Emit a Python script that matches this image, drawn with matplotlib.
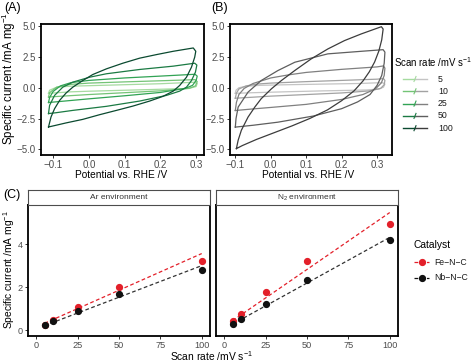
import numpy as np
import matplotlib
matplotlib.use("Agg")
import matplotlib.pyplot as plt
from matplotlib.lines import Line2D

plt.rcParams['font.family'] = ['Liberation Sans', 'DejaVu Sans']
plt.rcParams['mathtext.default'] = 'regular'

# ---- CV loops, panel A (Fe-N-C, greens) : potential /V, current /mA mg-1
A5_E = [-0.113, -0.11, -0.09, -0.05, 0.0, 0.1, 0.2, 0.295, 0.303, 0.3, 0.28, 0.2, 0.1, 0.0, -0.05, -0.113]
A5_I = [-0.45, -0.2, 0.05, 0.13, 0.17, 0.25, 0.33, 0.45, 0.35, 0.1, -0.05, -0.12, -0.2, -0.28, -0.33, -0.45]
A10_E = [-0.113, -0.11, -0.09, -0.05, 0.0, 0.1, 0.2, 0.297, 0.303, 0.298, 0.28, 0.2, 0.1, 0.0, -0.113]
A10_I = [-0.75, -0.4, 0.05, 0.28, 0.38, 0.48, 0.57, 0.66, 0.5, 0.15, -0.05, -0.25, -0.4, -0.55, -0.75]
A25_E = [-0.113, -0.11, -0.1, -0.08, -0.05, 0.0, 0.1, 0.2, 0.297, 0.303, 0.3, 0.29, 0.27, 0.2, 0.1, 0.0, -0.113]
A25_I = [-1.2, -0.8, -0.3, 0.15, 0.42, 0.6, 0.8, 0.95, 1.1, 0.95, 0.6, 0.2, -0.05, -0.38, -0.65, -0.9, -1.2]
A50_E = [-0.113, -0.11, -0.096, -0.073, -0.045, 0.002, 0.049, 0.142, 0.236, 0.296,
         0.302, 0.298, 0.287, 0.273, 0.254, 0.217, 0.142, 0.049, -0.045, -0.092, -0.113]
A50_I = [-2.1, -1.43, -0.62, 0.05, 0.46, 0.86, 1.14, 1.49, 1.76, 2.0,
         1.85, 1.27, 0.59, 0.05, -0.27, -0.62, -1.08, -1.51, -1.84, -2.03, -2.1]
A100_E = [-0.113, -0.106, -0.096, -0.082, -0.064, -0.045, -0.017, 0.011, 0.049, 0.095, 0.142, 0.189, 0.236, 0.292,
          0.299, 0.296, 0.287, 0.273, 0.254, 0.236, 0.207, 0.170, 0.123, 0.077, 0.030, -0.017, -0.064, -0.092, -0.113]
A100_I = [-3.19, -2.38, -1.70, -1.03, -0.43, 0.05, 0.59, 1.08, 1.54, 2.0, 2.41, 2.70, 2.97, 3.24,
          2.97, 2.49, 1.68, 0.86, 0.19, -0.27, -0.70, -1.08, -1.49, -1.84, -2.19, -2.57, -2.86, -3.05, -3.19]

# ---- CV loops, panel B (Nb-N-C, greys)
B5_E = [-0.1, -0.098, -0.09, -0.07, -0.03, 0.05, 0.15, 0.25, 0.315, 0.322, 0.318, 0.305, 0.27, 0.15, 0.05, -0.05, -0.1]
B5_I = [-0.45, -0.2, 0.0, 0.12, 0.2, 0.25, 0.3, 0.35, 0.42, 0.3, 0.05, -0.1, -0.18, -0.25, -0.32, -0.4, -0.45]
B10_E = [-0.1, -0.097, -0.09, -0.07, -0.04, 0.0, 0.1, 0.2, 0.3, 0.318, 0.322, 0.32, 0.31, 0.28, 0.2, 0.1, 0.0, -0.1]
B10_I = [-0.85, -0.45, -0.1, 0.15, 0.3, 0.38, 0.5, 0.6, 0.7, 0.75, 0.6, 0.25, -0.05, -0.25, -0.42, -0.55, -0.68, -0.85]
B25_E = [-0.1, -0.097, -0.09, -0.075, -0.05, 0.0, 0.05, 0.1, 0.2, 0.3, 0.318,
         0.322, 0.32, 0.312, 0.295, 0.26, 0.2, 0.1, 0.0, -0.05, -0.1]
B25_I = [-1.85, -1.2, -0.55, -0.05, 0.35, 0.8, 1.05, 1.25, 1.5, 1.7, 1.78,
         1.6, 1.0, 0.4, -0.1, -0.55, -0.95, -1.35, -1.6, -1.72, -1.85]
B50_E = [-0.1, -0.098, -0.092, -0.064, -0.027, 0.02, 0.068, 0.161, 0.256, 0.317,
         0.322, 0.32, 0.313, 0.3, 0.28, 0.245, 0.2, 0.12, 0.02, -0.05, -0.1]
B50_I = [-3.2, -2.5, -1.57, -0.35, 0.59, 1.4, 2.08, 2.76, 2.97, 3.1,
         2.9, 2.0, 1.0, 0.2, -0.55, -1.15, -1.7, -2.3, -2.8, -3.05, -3.2]
B100_E = [-0.097, -0.092, -0.083, -0.064, -0.045, -0.027, 0.002, 0.030, 0.068, 0.114, 0.161, 0.208, 0.255, 0.312,
          0.317, 0.313, 0.305, 0.293, 0.278, 0.26, 0.235, 0.2, 0.16, 0.11, 0.06, 0.01, -0.04, -0.08, -0.097]
B100_I = [-4.95, -4.27, -3.46, -2.38, -1.57, -0.89, -0.08, 0.59, 1.41, 2.35, 3.16, 3.84, 4.38, 4.97,
          4.78, 3.9, 3.0, 2.1, 1.3, 0.55, -0.25, -1.05, -1.8, -2.5, -3.1, -3.65, -4.2, -4.7, -4.95]

scan_labels = ['5', '10', '25', '50', '100']
green_cols = ['#a6dba0', '#74c476', '#31a354', '#1b7a43', '#0b4a30']
grey_cols = ['#c4c4c4', '#a2a2a2', '#808080', '#5e5e5e', '#3c3c3c']

# ---- panel C: capacitive current vs scan rate
scan_rate = [5, 10, 25, 50, 100]
ar_fe = [0.25, 0.49, 1.09, 2.02, 3.22]
ar_nb = [0.23, 0.43, 0.91, 1.68, 2.82]
n2_fe = [0.43, 0.75, 1.76, 3.21, 4.95]
n2_nb = [0.31, 0.54, 1.23, 2.33, 4.18]
fit_x = [5, 100]
ar_fe_fit = [0.33, 3.56]
ar_nb_fit = [0.22, 3.0]
n2_fe_fit = [0.45, 5.46]
n2_nb_fit = [0.29, 4.31]
fe_col = '#e3202a'
nb_col = '#111111'

W, H = 474, 364
fig = plt.figure(figsize=(W / 100, H / 100), dpi=100)


def box(l, t, r, b):
    return fig.add_axes([l / W, 1 - b / H, (r - l) / W, (b - t) / H])


def fx(x):
    return x / W


def fy(y):
    return 1 - y / H


def style(ax, size):
    for s in ax.spines.values():
        s.set_linewidth(1.3)
        s.set_color('black')
    ax.tick_params(direction='out', length=2.5, width=0.7, color='#333333',
                   labelcolor='#4d4d4d', labelsize=size, pad=1.2)


def minus(v, fmt):
    return (fmt % v).replace('-', '\u2212')


cv_yticks = [-5.0, -2.5, 0.0, 2.5, 5.0]
cv_xticks = [-0.1, 0.0, 0.1, 0.2, 0.3]

axA = box(41, 24, 204, 155)
axB = box(230, 24, 392, 155)
loopsA = [(A5_E, A5_I), (A10_E, A10_I), (A25_E, A25_I), (A50_E, A50_I), (A100_E, A100_I)]
loopsB = [(B5_E, B5_I), (B10_E, B10_I), (B25_E, B25_I), (B50_E, B50_I), (B100_E, B100_I)]
for (e, i), c in zip(loopsA, green_cols):
    axA.plot(e, i, color=c, lw=0.9)
for (e, i), c in zip(loopsB, grey_cols):
    axB.plot(e, i, color=c, lw=0.9)
axA.set_xlim(-0.134, 0.322)
axB.set_xlim(-0.115, 0.342)
for ax in (axA, axB):
    ax.set_ylim(-5.47, 5.19)
    ax.set_yticks(cv_yticks, [minus(v, '%.1f') for v in cv_yticks])
    ax.set_xticks(cv_xticks, [minus(v, '%.1f') for v in cv_xticks])
    style(ax, 7)

fig.text(fx(121), fy(175), 'Potential vs. RHE /V', ha='center', va='center', fontsize=7.3)
fig.text(fx(308), fy(175), 'Potential vs. RHE /V', ha='center', va='center', fontsize=7.3)
fig.text(fx(9), fy(79), 'Specific current /mA mg$^{-1}$', rotation=90, ha='center', va='center', fontsize=8.3)
fig.text(fx(4), fy(8), '(A)', ha='left', va='center', fontsize=9)
fig.text(fx(211), fy(8), '(B)', ha='left', va='center', fontsize=9)
fig.text(fx(3), fy(195), '(C)', ha='left', va='center', fontsize=9)

# legend for scan rate
fig.text(fx(394), fy(62), 'Scan rate /mV s$^{-1}$', ha='left', va='center', fontsize=6.9)
for k, lab in enumerate(scan_labels):
    yy = fy(79 + 12.3 * k)
    fig.add_artist(Line2D([fx(403), fx(415)], [yy, yy], color=green_cols[k], lw=1.0))
    fig.add_artist(Line2D([fx(415), fx(427)], [yy, yy], color=grey_cols[k], lw=1.0))
    fig.add_artist(Line2D([fx(414), fx(416)], [yy - 2.5 / H, yy + 2.5 / H], color=green_cols[k], lw=0.8))
    fig.text(fx(438), yy, lab, ha='left', va='center', fontsize=6.3, color='#1a1a1a')

# ---- panel C facets
c_xticks = [0, 25, 50, 75, 100]
c_yticks = [0, 2, 4]
facets = [(28, 210, 'Ar environment', ar_fe, ar_nb, ar_fe_fit, ar_nb_fit),
          (216, 398, 'N$_2$ environment', n2_fe, n2_nb, n2_fe_fit, n2_nb_fit)]
for j, (l, r, title, fe, nb, fefit, nbfit) in enumerate(facets):
    ax = box(l, 205, r, 336)
    ax.plot(fit_x, fefit, color=fe_col, lw=0.9, ls=(0, (3, 2)))
    ax.plot(fit_x, nbfit, color='#333333', lw=0.9, ls=(0, (3, 2)))
    ax.plot(scan_rate, fe, 'o', color=fe_col, ms=4.2, zorder=3)
    ax.plot(scan_rate, nb, 'o', color=nb_col, ms=4.2, zorder=3)
    ax.set_xlim(-5, 105)
    ax.set_ylim(-0.26, 5.81)
    ax.set_xticks(c_xticks)
    ax.set_yticks(c_yticks)
    style(ax, 6.6)
    if j == 1:
        ax.tick_params(axis='y', left=False, labelleft=False)
    st = box(l, 190, r, 205)
    st.set_xticks([])
    st.set_yticks([])
    for s in st.spines.values():
        s.set_color('#4d4d4d')
        s.set_linewidth(0.8)
    st.text(0.5, 0.5, title, ha='center', va='center', fontsize=6, color='#333333', transform=st.transAxes)

fig.text(fx(211), fy(356), 'Scan rate /mV s$^{-1}$', ha='center', va='center', fontsize=7.4)
fig.text(fx(9), fy(270), 'Specific current /mA mg$^{-1}$', rotation=90, ha='center', va='center', fontsize=7.4)

# legend for catalyst
fig.text(fx(414), fy(245), 'Catalyst', ha='left', va='center', fontsize=7.4)
for yy_px, col, lab in [(262.3, fe_col, 'Fe\u2212N\u2212C'), (277.7, nb_col, 'Nb\u2212N\u2212C')]:
    yy = fy(yy_px)
    fig.add_artist(Line2D([fx(414), fx(429)], [yy, yy], color=col, lw=0.9, ls=(0, (3, 2))))
    fig.add_artist(Line2D([fx(421.7)], [yy], color=col, marker='o', ms=4.2, lw=0))
    fig.text(fx(434), yy, lab, ha='left', va='center', fontsize=6.2, color='#1a1a1a')

fig.savefig('out.png', dpi=100)
